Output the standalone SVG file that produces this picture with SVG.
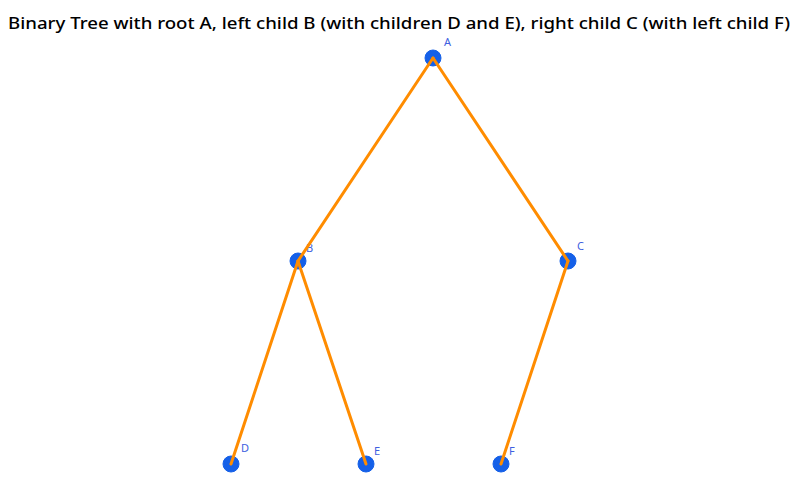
<svg xmlns="http://www.w3.org/2000/svg" width="800" height="496" viewBox="0 0 800 496">
<style>
.edge{stroke:#FF8C00;stroke-width:3;fill:none;stroke-linecap:round}
.node circle{fill:#1560E8;stroke:#1560E8;stroke-width:1}
.node text{font-family:"Noto Sans",sans-serif;font-size:11px;fill:#4060E0}
.title{font-family:"Noto Sans",sans-serif;font-size:16px;fill:#000;font-weight:500}
</style>
<rect width="800" height="496" fill="#fff"/>
<text class="title" x="8" y="29" textLength="782" lengthAdjust="spacingAndGlyphs">Binary Tree with root A, left child B (with children D and E), right child C (with left child F)</text>
<g id="nodes">
<g id="A" class="node"><circle cx="433" cy="58" r="8"/><text x="444" y="46">A</text></g>
<g id="B" class="node"><circle cx="298" cy="261" r="8"/><text x="306" y="252">B</text></g>
<g id="C" class="node"><circle cx="568" cy="261" r="8"/><text x="577" y="250">C</text></g>
<g id="D" class="node"><circle cx="231" cy="464" r="8"/><text x="241" y="452">D</text></g>
<g id="E" class="node"><circle cx="366" cy="464" r="8"/><text x="374" y="455">E</text></g>
<g id="F" class="node"><circle cx="501" cy="464" r="8"/><text x="509" y="455">F</text></g>
</g>
<g id="connectors">
<line class="edge" x1="433" y1="58" x2="298" y2="261"/>
<line class="edge" x1="433" y1="58" x2="568" y2="261"/>
<line class="edge" x1="298" y1="261" x2="231" y2="464"/>
<line class="edge" x1="298" y1="261" x2="366" y2="464"/>
<line class="edge" x1="568" y1="261" x2="501" y2="464"/>
</g>
</svg>
